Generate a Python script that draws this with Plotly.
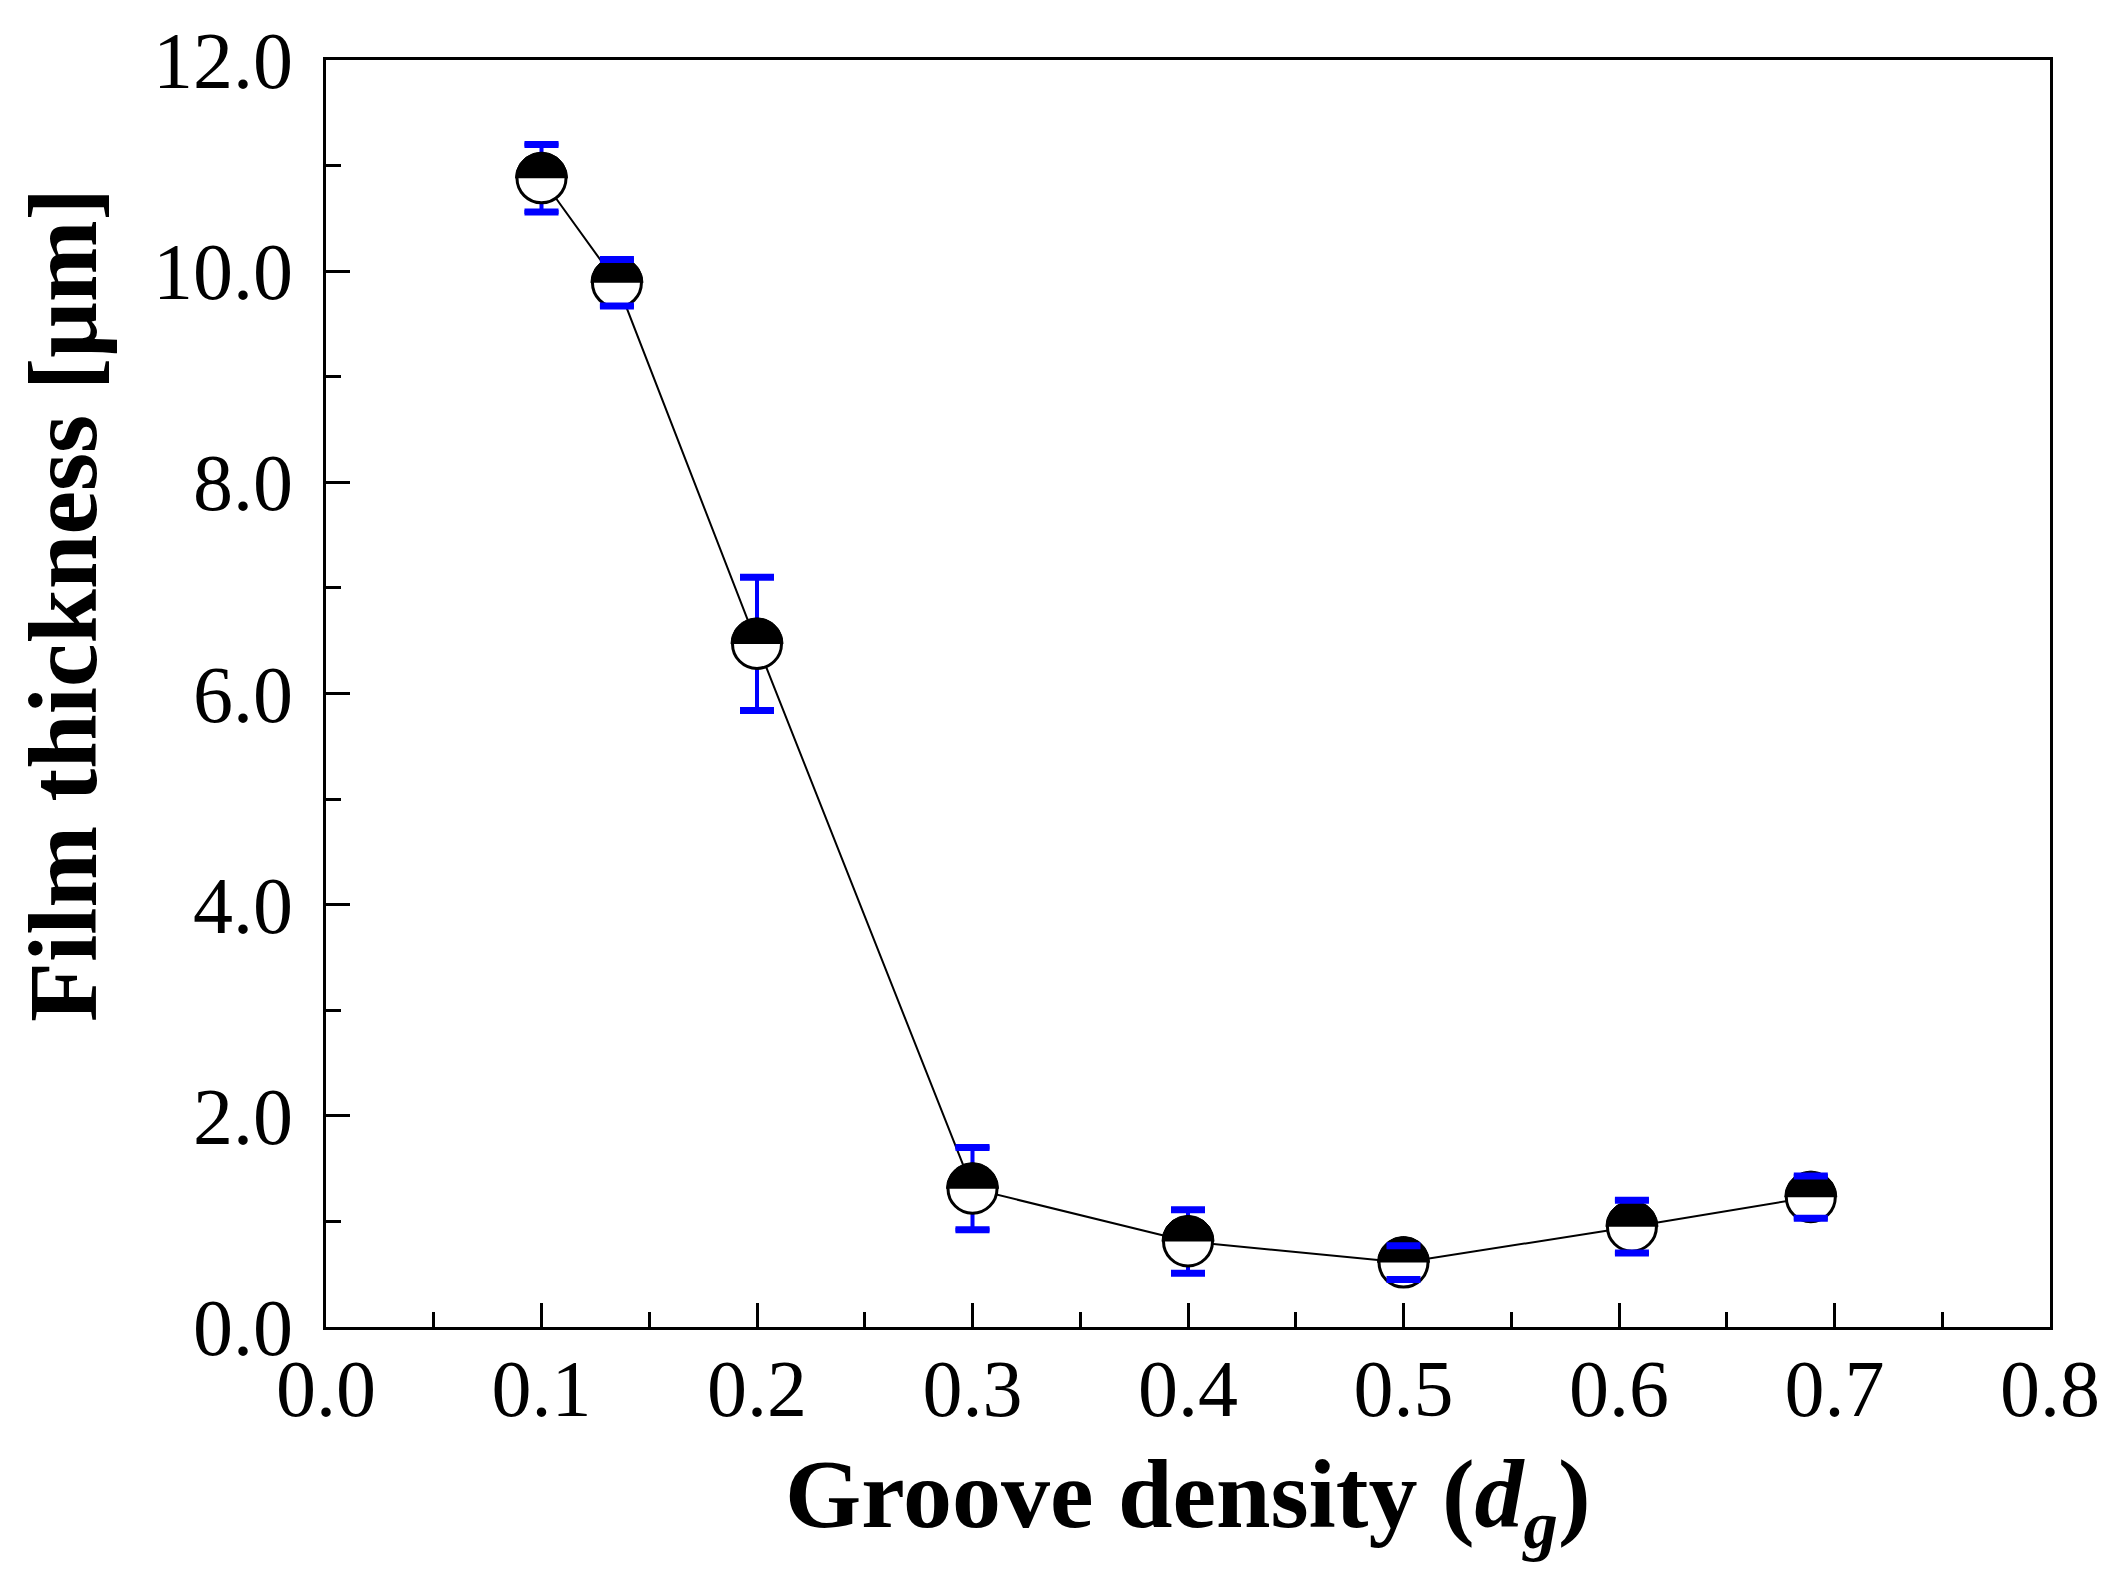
import numpy as np
import plotly.graph_objects as go

# ---- data ----
groove_density = [0.1, 0.135, 0.2, 0.3, 0.4, 0.5, 0.606, 0.689]
film_thickness = [10.88, 9.89, 6.47, 1.31, 0.81, 0.61, 0.95, 1.23]
thickness_err = [0.32, 0.22, 0.63, 0.39, 0.30, 0.16, 0.25, 0.20]

x_ticks = [0.0, 0.1, 0.2, 0.3, 0.4, 0.5, 0.6, 0.7, 0.8]
x_tick_text = ["0.0", "0.1", "0.2", "0.3", "0.4", "0.5", "0.6", "0.7", "0.8"]
y_ticks = [0.0, 2.0, 4.0, 6.0, 8.0, 10.0, 12.0]
y_tick_text = ["0.0", "2.0", "4.0", "6.0", "8.0", "10.0", "12.0"]

# ---- layout geometry (page body has an 8px margin) ----
W, H = 2106, 1555
ML, MT = 318, 52
PW, PH = 1724, 1267
MR, MB = W - ML - PW, H - MT - PH
XR = [0.0, 0.8]
YR = [0.0, 12.0]
px_x = PW / (XR[1] - XR[0])
px_y = PH / (YR[1] - YR[0])

MARK_D = 49
R_HALF = 26  # radius in px of the filled upper half

FONT = "Liberation Serif, Times New Roman, serif"
BLUE = "#0000FF"

fig = go.Figure()

# connecting line
fig.add_trace(go.Scatter(
    x=groove_density, y=film_thickness, mode="lines",
    line=dict(color="black", width=2), showlegend=False, hoverinfo="skip"))

# error bar stems (drawn below the symbols)
fig.add_trace(go.Scatter(
    x=groove_density, y=film_thickness, mode="markers",
    marker=dict(size=1, color="rgba(0,0,0,0)"),
    error_y=dict(type="data", array=thickness_err, visible=True,
                 color=BLUE, thickness=4, width=17),
    showlegend=False, hoverinfo="skip"))

# white circles with black outline
fig.add_trace(go.Scatter(
    x=groove_density, y=film_thickness, mode="markers",
    marker=dict(symbol="circle", size=MARK_D, color="white",
                line=dict(color="black", width=3)),
    showlegend=False))

# upper half filled black (polygon built from the data points)
t = np.linspace(0, np.pi, 40)
hx, hy = [], []
for xv, yv in zip(groove_density, film_thickness):
    hx += list(xv + R_HALF * np.cos(t) / px_x) + [None]
    hy += list(yv + R_HALF * np.sin(t) / px_y) + [None]
fig.add_trace(go.Scatter(
    x=hx, y=hy, mode="lines", fill="toself", fillcolor="black",
    line=dict(color="black", width=1), showlegend=False, hoverinfo="skip"))

# error bar caps drawn on top of the symbols
y_top = [v + e for v, e in zip(film_thickness, thickness_err)]
y_bot = [v - e for v, e in zip(film_thickness, thickness_err)]
zeros = [0.0] * len(film_thickness)
for yc in (y_top, y_bot):
    fig.add_trace(go.Scatter(
        x=groove_density, y=yc, mode="markers",
        marker=dict(size=1, color="rgba(0,0,0,0)"),
        error_y=dict(type="data", array=zeros, visible=True,
                     color=BLUE, thickness=7, width=17),
        showlegend=False, hoverinfo="skip"))

axis_common = dict(
    showgrid=False, zeroline=False, showline=True, linecolor="black",
    linewidth=3, mirror=True, ticks="inside", tickwidth=3, tickcolor="black",
    tickfont=dict(family=FONT, size=80, color="black"),
)

fig.update_xaxes(
    range=XR, tickmode="array", tickvals=x_ticks, ticktext=x_tick_text,
    ticklen=24, ticklabelstandoff=-10,
    minor=dict(ticks="inside", ticklen=15, tickwidth=3, tickcolor="black", dtick=0.05),
    **axis_common)
fig.update_yaxes(
    range=YR, tickmode="array", tickvals=y_ticks, ticktext=y_tick_text,
    ticklen=24, ticklabelstandoff=14,
    minor=dict(ticks="inside", ticklen=15, tickwidth=3, tickcolor="black", dtick=1.0),
    **axis_common)

fig.add_annotation(
    text="<b>Groove density (<i>d</i><sub><i>g</i></sub>)</b>",
    xref="paper", yref="paper", x=0.5, y=-0.088,
    xanchor="center", yanchor="top", showarrow=False,
    font=dict(family=FONT, size=98, color="black"))
fig.add_annotation(
    text="<b>Film thickness [μm]</b>",
    xref="paper", yref="paper", x=-0.1525, y=0.570,
    xanchor="center", yanchor="middle", textangle=-90, showarrow=False,
    font=dict(family=FONT, size=98, color="black"))

fig.update_layout(
    width=W, height=H, margin=dict(l=ML, r=MR, t=MT, b=MB, autoexpand=False),
    plot_bgcolor="white", paper_bgcolor="white", showlegend=False)

fig.write_html("out.html")
